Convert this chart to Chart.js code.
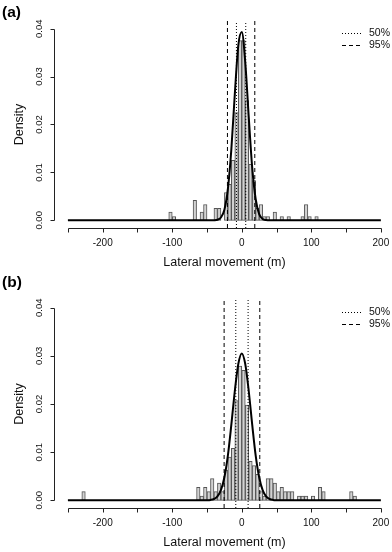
<!DOCTYPE html>
<html>
<head>
<meta charset="utf-8">
<script src="https://cdn.jsdelivr.net/npm/chart.js@4.4.0/dist/chart.umd.min.js"></script>
<style>
  html, body { margin: 0; padding: 0; background: #fff; overflow: hidden; }
  canvas { position: absolute; left: 0; }
  #panel_a { top: 0; }
  #panel_b { top: 276px; }
</style>
</head>
<body>
<canvas id="panel_a" width="392" height="276"></canvas>
<canvas id="panel_b" width="392" height="276"></canvas>
<script>
// histogram bins are 5 m wide, listed by their left edge
const binWidth = 5;

// panel (a)
const binStartA = [-105, -100, -70, -60, -55, -40, -35, -25, -20, -15, -10, -5, 0, 5, 10, 15, 20, 25, 30, 35, 45, 55, 65, 85, 90, 95, 105];
const densityA  = [0.0017, 0.0008, 0.0042, 0.0017, 0.0033, 0.0025, 0.0025, 0.0058, 0.0075, 0.0125, 0.0225, 0.0375, 0.0375, 0.0250, 0.0117, 0.0083, 0.0025, 0.0033, 0.0008, 0.0008, 0.0017, 0.0008, 0.0008, 0.0008, 0.0033, 0.0008, 0.0008];
const curveXA = [-250, -45, -40, -35, -30, -25, -20, -15, -10, -5, 0, 5, 10, 15, 20, 25, 30, 35, 40, 45, 200];
const curveYA = [0, 0, 0.00002, 0.00012, 0.0006, 0.0022, 0.0065, 0.0148, 0.0264, 0.0365, 0.0393, 0.0330, 0.0216, 0.0110, 0.0044, 0.0013, 0.0003, 0.00006, 0, 0, 0];
const q50A = [-7.7, 5.7];
const q95A = [-20.6, 18.7];

// panel (b)
const binStartB = [-230, -65, -60, -55, -50, -45, -40, -35, -30, -25, -20, -15, -10, -5, 0, 5, 10, 15, 20, 25, 30, 35, 40, 45, 50, 55, 60, 65, 70, 80, 85, 90, 100, 110, 115, 155, 160];
const densityB  = [0.0018, 0.0027, 0.0009, 0.0027, 0.0018, 0.0045, 0.0018, 0.0036, 0.0018, 0.0063, 0.0090, 0.0108, 0.0207, 0.0279, 0.0270, 0.0198, 0.0081, 0.0072, 0.0054, 0.0018, 0.0009, 0.0045, 0.0045, 0.0036, 0.0018, 0.0027, 0.0018, 0.0018, 0.0018, 0.0009, 0.0009, 0.0009, 0.0009, 0.0027, 0.0018, 0.0018, 0.0009];
const curveXB = [-250, -55, -50, -45, -40, -35, -30, -25, -20, -15, -10, -5, 0, 5, 10, 15, 20, 25, 30, 35, 40, 45, 50, 55, 200];
const curveYB = [0, 0, 0.00002, 0.00008, 0.00027, 0.0008, 0.0021, 0.0048, 0.0093, 0.0157, 0.0227, 0.0283, 0.0305, 0.0283, 0.0227, 0.0157, 0.0093, 0.0048, 0.0021, 0.0008, 0.00027, 0.00008, 0.00002, 0, 0];
const q50B = [-8.6, 9.1];
const q95B = [-25.4, 25.9];

// axes
const xTicks = [-250, -200, -150, -100, -50, 0, 50, 100, 150, 200];
const xTickLabels = ['', '-200', '', '-100', '', '0', '', '100', '', '200'];
const yTicks = [0, 0.01, 0.02, 0.03, 0.04];
const yTickLabels = ['0.00', '0.01', '0.02', '0.03', '0.04'];
const legendLabels = ['50%', '95%'];

const FONT = '"Liberation Sans", Arial, Helvetica, sans-serif';
const X_MIN = -270, X_MAX = 216;
const Y_MIN = -0.0016, Y_MAX = 0.0416;

function vline(v, dash) {
  return {
    type: 'line',
    data: [{x: v, y: Y_MIN}, {x: v, y: Y_MAX}],
    borderColor: '#000',
    borderWidth: 1,
    borderDash: dash,
    pointRadius: 0,
    order: 0
  };
}

function rAxes(panel) {
  return {
    id: 'rAxes',
    afterDraw(chart) {
      const ctx = chart.ctx;
      const xs = chart.scales.x, ys = chart.scales.y;
      const area = chart.chartArea;
      ctx.save();
      ctx.strokeStyle = '#222';
      ctx.fillStyle = '#111';
      ctx.lineWidth = 1;

      // x axis
      const ya = Math.round(area.bottom) + 0.5;
      ctx.beginPath();
      ctx.moveTo(Math.round(xs.getPixelForValue(xTicks[0])) + 0.5, ya);
      ctx.lineTo(Math.round(xs.getPixelForValue(xTicks[xTicks.length - 1])) + 0.5, ya);
      xTicks.forEach(v => {
        const px = Math.round(xs.getPixelForValue(v)) + 0.5;
        ctx.moveTo(px, ya);
        ctx.lineTo(px, ya + 4);
      });
      ctx.stroke();
      ctx.font = '10px ' + FONT;
      ctx.textAlign = 'center';
      ctx.textBaseline = 'middle';
      xTicks.forEach((v, i) => {
        ctx.fillText(xTickLabels[i], xs.getPixelForValue(v), area.bottom + 15.5);
      });
      ctx.font = '12.5px ' + FONT;
      ctx.fillText('Lateral movement (m)', 224.5, area.bottom + 35);

      // y axis
      const xa = Math.round(area.left) + 0.5;
      ctx.beginPath();
      ctx.moveTo(xa, Math.round(ys.getPixelForValue(yTicks[0])) + 0.5);
      ctx.lineTo(xa, Math.round(ys.getPixelForValue(yTicks[yTicks.length - 1])) + 0.5);
      yTicks.forEach(v => {
        const py = Math.round(ys.getPixelForValue(v)) + 0.5;
        ctx.moveTo(xa, py);
        ctx.lineTo(xa - 4, py);
      });
      ctx.stroke();
      ctx.font = '9.5px ' + FONT;
      yTicks.forEach((v, i) => {
        ctx.save();
        ctx.translate(39.5, ys.getPixelForValue(v));
        ctx.rotate(-Math.PI / 2);
        ctx.fillText(yTickLabels[i], 0, 0);
        ctx.restore();
      });
      ctx.save();
      ctx.font = '12.5px ' + FONT;
      ctx.translate(20, (area.top + area.bottom) / 2);
      ctx.rotate(-Math.PI / 2);
      ctx.fillText('Density', 0, 0);
      ctx.restore();

      // legend
      ctx.strokeStyle = '#000';
      const legDash = [[1, 2], [4, 3]];
      ctx.font = '10.5px ' + FONT;
      ctx.textAlign = 'left';
      legendLabels.forEach((lab, i) => {
        const ly = Math.round(area.top + 12 + i * 11.5) + 0.5;
        ctx.setLineDash(legDash[i]);
        ctx.beginPath();
        ctx.moveTo(342, ly);
        ctx.lineTo(361, ly);
        ctx.stroke();
        ctx.fillText(lab, 369, ly);
      });
      ctx.setLineDash([]);

      // panel letter
      ctx.font = 'bold 15.5px ' + FONT;
      ctx.fillStyle = '#000';
      ctx.fillText(panel.letter, 2, panel.letterY);
      ctx.restore();
    }
  };
}

function makePanel(id, panel) {
  const hist = panel.binStart.map((s, i) => ({x: s + binWidth / 2, y: panel.density[i]}));
  const curve = panel.curveX.map((x, i) => ({x: x, y: panel.curveY[i]}));
  const datasets = [
    {
      type: 'line',
      data: curve,
      borderColor: '#000',
      borderWidth: 2,
      pointRadius: 0,
      cubicInterpolationMode: 'monotone',
      order: 0
    },
    ...panel.q50.map(v => vline(v, [1, 2])),
    ...panel.q95.map(v => vline(v, [4, 3])),
    {
      type: 'bar',
      data: hist,
      backgroundColor: '#d2d2d2',
      borderColor: '#555',
      borderWidth: 1,
      borderSkipped: false,
      barPercentage: 1,
      categoryPercentage: 1,
      order: 2
    }
  ];

  new Chart(document.getElementById(id), {
    type: 'line',
    data: {datasets: datasets},
    options: {
      responsive: false,
      animation: false,
      layout: {padding: {left: 54, right: 0, top: panel.top, bottom: panel.bottom}},
      plugins: {legend: {display: false}, tooltip: {enabled: false}},
      scales: {
        x: {type: 'linear', min: X_MIN, max: X_MAX, offset: false, display: false},
        y: {type: 'linear', min: Y_MIN, max: Y_MAX, display: false}
      }
    },
    plugins: [rAxes(panel)]
  });
}

makePanel('panel_a', {
  binStart: binStartA, density: densityA, curveX: curveXA, curveY: curveYA,
  q50: q50A, q95: q95A, top: 21, bottom: 48, letter: '(a)', letterY: 13
});
makePanel('panel_b', {
  binStart: binStartB, density: densityB, curveX: curveXB, curveY: curveYB,
  q50: q50B, q95: q95B, top: 24, bottom: 44, letter: '(b)', letterY: 6.5
});
</script>
</body>
</html>
